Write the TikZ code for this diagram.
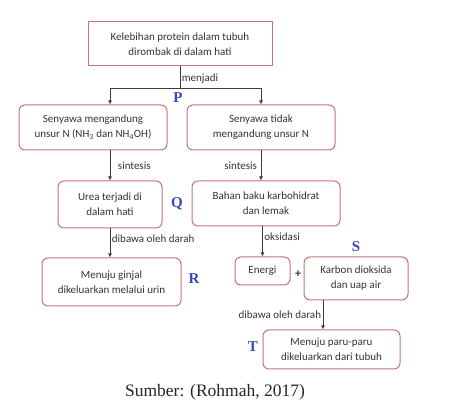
\documentclass[tikz,border=0pt]{standalone}
\usepackage{fontspec}
\setmainfont{Liberation Serif}
\newfontfamily\boxfont{Carlito}
\usetikzlibrary{arrows.meta,positioning}
\definecolor{boxred}{RGB}{200,115,115}
\definecolor{letblue}{RGB}{55,70,185}
\definecolor{linegray}{RGB}{60,60,60}
\tikzset{
  box/.style={draw=boxred, line width=1pt, rounded corners=6pt, align=center,
    font=\boxfont\fontsize{11}{15}\selectfont, text=black!80, inner sep=2pt},
  lbl/.style={font=\boxfont\fontsize{11}{13}\selectfont, text=black!80, inner sep=1.5pt},
  tag/.style={font=\bfseries\fontsize{15}{15}\selectfont, text=letblue},
}
\begin{document}
\begin{tikzpicture}[x=1pt,y=-1pt,>={Latex[length=4pt,width=4pt]}]
\useasboundingbox (0,0) rectangle (464,411);
% kotak
\node[box,sharp corners,minimum width=184pt,minimum height=44pt] (protein) at (180,44) {Kelebihan protein dalam tubuh\\dirombak di dalam hati};
\node[box,minimum width=148pt,minimum height=45pt] (nyes) at (93,127.5) {Senyawa mengandung\\unsur N (NH\textsubscript{3} dan NH\textsubscript{4}OH)};
\node[box,minimum width=148pt,minimum height=45pt] (nno) at (261,127.5) {Senyawa tidak\\mengandung unsur N};
\node[box,minimum width=104pt,minimum height=47pt] (urea) at (110,204.5) {Urea terjadi di\\dalam hati};
\node[box,minimum width=148pt,minimum height=45pt] (bahan) at (266,203.5) {Bahan baku karbohidrat\\dan lemak};
\node[box,minimum width=139pt,minimum height=48pt] (ginjal) at (111.5,282) {Menuju ginjal\\dikeluarkan melalui urin};
\node[box,minimum width=55pt,minimum height=28pt] (energi) at (262.5,271) {Energi};
\node[box,minimum width=104pt,minimum height=43pt] (karbon) at (356,278.5) {Karbon dioksida\\dan uap air};
\node[box,minimum width=137pt,minimum height=39pt] (paru) at (331.5,349.5) {Menuju paru-paru\\dikeluarkan dari tubuh};
% huruf
\node[tag] (P) at (178,98) {P};
\node[tag] (Q) at (177,204) {Q};
\node[tag] (R) at (194,279) {R};
\node[tag] (S) at (356,247) {S};
\node[tag] (T) at (253,347) {T};
\node[lbl,font=\boxfont\bfseries\fontsize{12}{12}\selectfont] (plus) at (298,274) {+};
% panah
\begin{scope}[draw=linegray,line width=0.9pt]
\coordinate (split) at ([yshift=-22pt]protein.south);
\draw (protein.south) -- (split) node[pos=0.55,right,lbl] {menjadi};
\draw[->] (split) -| ([xshift=17pt]nyes.north);
\draw[->] (split) -| (nno.north);
\draw[->] (nyes.south -| urea.north) -- (urea.north) node[midway,right=6pt,lbl] {sintesis};
\draw[->] (nno.south) -- (nno.south |- bahan.north) node[midway,left=2pt,lbl] {sintesis};
\draw[->] (urea.south) -- (urea.south |- ginjal.north) node[pos=0.35,right,lbl] {dibawa oleh darah};
\draw[->] (bahan.south -| energi.north) -- (energi.north) node[pos=0.35,right,lbl] {oksidasi};
\draw[->] ([xshift=-33pt]karbon.south) -- ([xshift=-33pt]karbon.south |- paru.north) node[midway,left,lbl] {dibawa oleh darah};
\end{scope}
% sumber
\node[font=\fontsize{17.5}{18}\selectfont,text=black!85] (sumber) at (215,392) {Sumber: (Rohmah, 2017)};
\end{tikzpicture}
\end{document}
